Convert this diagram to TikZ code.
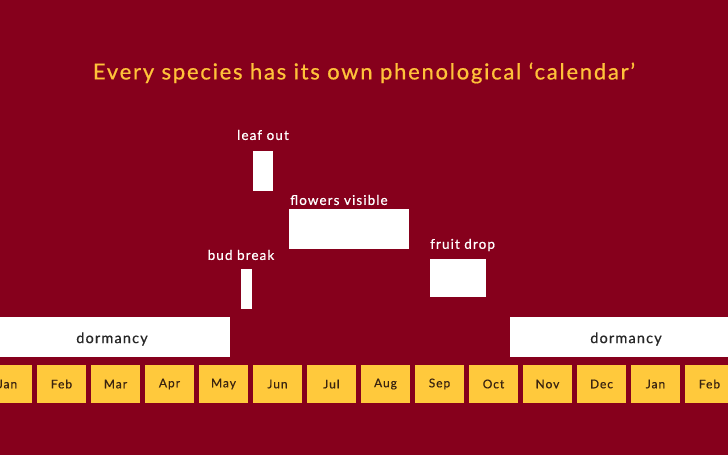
\documentclass[tikz,border=0pt]{standalone}
\usepackage{fontspec}
\setmainfont{Lato}[LetterSpace=8, FakeBold=0.5]
\newfontfamily\titlefont{Lato}[LetterSpace=8, FakeBold=0.7]
\definecolor{bg}{HTML}{86001C}
\definecolor{gold}{HTML}{FFC93C}
\definecolor{titlegold}{HTML}{FFC23A}
\definecolor{monthtxt}{HTML}{3A2410}
\tikzset{
  monthbox/.style={fill=gold, draw=none, minimum width=49pt, minimum height=38pt, inner sep=0pt, text=monthtxt, font=\fontsize{12}{12}\selectfont},
  phasebox/.style={fill=white, draw=none, inner sep=0pt},
  phaselabel/.style={text=white, inner sep=0pt, font=\fontsize{13.5}{14}\selectfont},
  dormlabel/.style={text=black!85, inner sep=0pt, font=\fontsize{14.5}{15}\selectfont}
}
\begin{document}
\begin{tikzpicture}[x=1pt,y=-1pt]
\useasboundingbox (0,0) rectangle (728,455);
\fill[bg] (0,0) rectangle (728,455);
\clip (0,0) rectangle (728,455);
% title
\node[text=titlegold, font=\titlefont\fontsize{22}{24}\selectfont, inner sep=0pt] (title) at (364,73) {Every species has its own phenological ‘calendar’};
% months
\foreach \m [count=\i from 0] in {Jan,Feb,Mar,Apr,May,Jun,Jul,Aug,Sep,Oct,Nov,Dec,Jan,Feb}{
  \node[monthbox] (m\i) at ({7.5+54*\i},384) {\m};
}
% dormancy bars
\node[phasebox, minimum width=240pt, minimum height=40pt] (dorm1) at (110,337) {};
\node[dormlabel] (dorm1t) at (112,339) {dormancy};
\node[phasebox, minimum width=228pt, minimum height=40pt] (dorm2) at (624,337) {};
\node[dormlabel] (dorm2t) at (626,339) {dormancy};
% bud break
\node[phasebox, minimum width=11pt, minimum height=40pt] (bud) at (246.5,289) {};
\node[phaselabel] (budt) at (241,255) {bud break};
% leaf out
\node[phasebox, minimum width=20pt, minimum height=40pt] (leaf) at (263,171) {};
\node[phaselabel] (leaft) at (263,135) {leaf out};
% flowers visible
\node[phasebox, minimum width=120pt, minimum height=40pt] (flow) at (349,229) {};
\node[phaselabel, anchor=west] (flowt) at (290,200) {flowers visible};
% fruit drop
\node[phasebox, minimum width=56pt, minimum height=38pt] (fruit) at (458,278) {};
\node[phaselabel, anchor=west] (fruitt) at (430,245) {fruit drop};
\end{tikzpicture}
\end{document}
